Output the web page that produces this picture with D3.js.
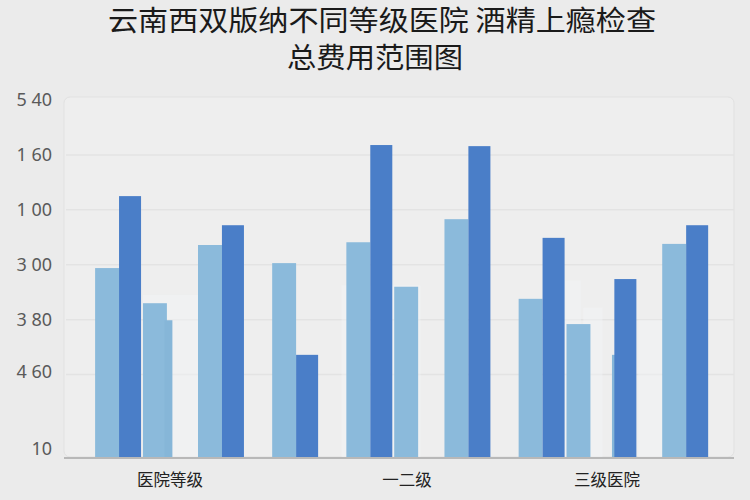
<!DOCTYPE html>
<html>
<head>
<meta charset="utf-8">
<script src="https://cdn.jsdelivr.net/npm/d3@7"></script>
<style>
  html, body { margin: 0; padding: 0; background: #ebebeb; }
  svg { display: block; }
</style>
</head>
<body>
<svg id="chart" width="750" height="500"></svg>
<script>
// ---- data ----
const titleLines = ["云南西双版纳不同等级医院 酒精上瘾检查", "总费用范围图"];
const categories = ["医院等级", "一二级", "三级医院"];
const categorySlots = [4.43, 14.33, 22.69];

const tickValues = [650, 550, 450, 350, 250, 155, 15];
const tickLabels = ["5 40", "1 60", "1 00", "3 00", "3 80", "4 60", "10"];
const gridValues = [550, 450, 350, 250, 150];

// bars: slot index along the x axis, series, value
const barSlot   = [1.3, 2.3, 3.3, 4.2, 5.6, 6.6,
                   8.7, 9.7, 11.8, 12.8, 13.8, 15.9, 16.9,
                   19.0, 20.0, 21.0, 22.9, 23.0, 25.0, 26.0];
const barSeries = ["light", "dark", "light", "stub", "light", "dark",
                   "light", "dark", "light", "dark", "light", "light", "dark",
                   "light", "dark", "light", "sliver", "dark", "light", "dark"];
const barValue  = [344, 475, 280, 249, 386, 422,
                   353, 186, 391, 568, 310, 433, 566,
                   288, 399, 242, 186, 324, 388, 422];

// faint background columns
const ghostSlot  = [3.3, 11.6, 20.9, 21.7, 24.0];
const ghostSpan  = [2.3, 3.3, 0.7, 0.8, 1.0];
const ghostValue = [295, 313, 322, 272, 250];

// ---- layout ----
const svg = d3.select("#chart");
const W = 750, H = 500;
const plot = { left: 64, right: 734, top: 100, bottom: 457 };

const x = d3.scaleLinear().domain([0, 28]).range([plot.left, plot.right]);
const y = d3.scaleLinear().domain([0, 650]).range([plot.bottom, plot.top]);
const unit = x(1) - x(0);

const seriesStyle = {
  light:  { fill: "#8bbadb", width: 1.0 },
  dark:   { fill: "#4a7ec8", width: 0.92 },
  stub:   { fill: "#86b6d8", width: 0.33 },
  sliver: { fill: "#86b6d8", width: 0.13 }
};

// background
svg.append("rect").attr("width", W).attr("height", H).attr("fill", "#ebebeb");

// plot panel
svg.append("rect")
  .attr("x", plot.left).attr("y", plot.top - 3)
  .attr("width", plot.right - plot.left).attr("height", plot.bottom - plot.top + 3)
  .attr("rx", 6)
  .attr("fill", "#eeeeee")
  .attr("stroke", "#e1e1e1").attr("stroke-width", 1);

// grid
svg.append("g").selectAll("line").data(gridValues).join("line")
  .attr("x1", plot.left + 2).attr("x2", plot.right)
  .attr("y1", d => y(d)).attr("y2", d => y(d))
  .attr("stroke", "#e3e3e3").attr("stroke-width", 1.5);

// ghost columns
svg.append("g").selectAll("rect").data(ghostSlot.map((s, i) => ({ s, span: ghostSpan[i], v: ghostValue[i] })))
  .join("rect")
  .attr("x", d => x(d.s)).attr("width", d => d.span * unit)
  .attr("y", d => y(d.v)).attr("height", d => y(0) - y(d.v))
  .attr("fill", "#f2f3f6").attr("opacity", 0.45);

// bars
const bars = barSlot.map((s, i) => ({ s, series: barSeries[i], v: barValue[i] }));
svg.append("g").selectAll("rect").data(bars).join("rect")
  .attr("x", d => x(d.s))
  .attr("width", d => seriesStyle[d.series].width * unit)
  .attr("y", d => y(d.v))
  .attr("height", d => y(0) - y(d.v))
  .attr("fill", d => seriesStyle[d.series].fill);

// baseline
svg.append("line")
  .attr("x1", plot.left).attr("x2", plot.right)
  .attr("y1", plot.bottom + 1).attr("y2", plot.bottom + 1)
  .attr("stroke", "#b8b8b8").attr("stroke-width", 2);

// y axis labels
const yAxis = d3.axisLeft(y).tickValues(tickValues)
  .tickFormat((d, i) => tickLabels[i]).tickSize(0).tickPadding(12);
const gy = svg.append("g").attr("transform", `translate(${plot.left},0)`).call(yAxis);
gy.select(".domain").remove();
gy.selectAll("text")
  .attr("font-family", "'Noto Sans', 'DejaVu Sans', sans-serif")
  .attr("font-size", 18).attr("fill", "#5a5a5a");

// x axis labels
svg.append("g").selectAll("text").data(categories).join("text")
  .attr("x", (d, i) => x(categorySlots[i]))
  .attr("y", 486)
  .attr("text-anchor", "middle")
  .attr("font-family", "'Noto Sans CJK SC', sans-serif")
  .attr("font-size", 16.5).attr("fill", "#222")
  .text(d => d);

// title
svg.append("text")
  .attr("x", 382).attr("y", 31)
  .attr("text-anchor", "middle")
  .attr("font-family", "'Noto Sans CJK SC', sans-serif")
  .attr("font-size", 28).attr("fill", "#1a1a1a")
  .attr("textLength", 548).attr("lengthAdjust", "spacingAndGlyphs")
  .text(titleLines[0]);
svg.append("text")
  .attr("x", 375).attr("y", 68)
  .attr("text-anchor", "middle")
  .attr("font-family", "'Noto Sans CJK SC', sans-serif")
  .attr("font-size", 28).attr("fill", "#1a1a1a")
  .attr("textLength", 176).attr("lengthAdjust", "spacingAndGlyphs")
  .text(titleLines[1]);
</script>
</body>
</html>
